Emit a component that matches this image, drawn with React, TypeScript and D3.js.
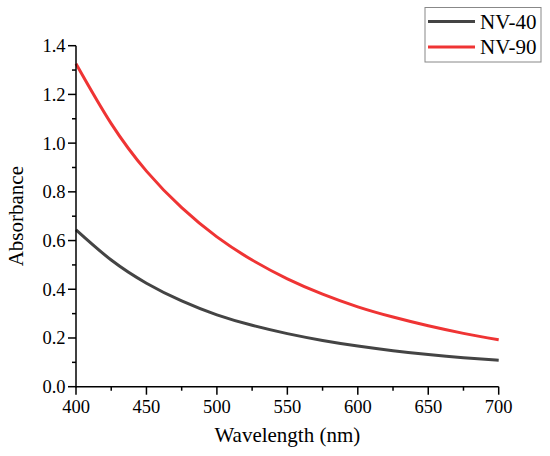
import React from "react";
import * as d3 from "d3";

const wavelengths = [400, 425, 450, 475, 500, 525, 550, 575, 600, 625, 650, 675, 700];
const nv40 = [0.644, 0.52, 0.425, 0.352, 0.295, 0.252, 0.218, 0.19, 0.167, 0.148, 0.132, 0.119, 0.109];
const nv90 = [1.326, 1.08, 0.885, 0.735, 0.615, 0.52, 0.443, 0.38, 0.328, 0.286, 0.25, 0.219, 0.193];
const seriesNames = ["NV-40", "NV-90"];
const seriesColors = ["#444444", "#ef3434"];
const xTicks = [400, 450, 500, 550, 600, 650, 700];
const xMinor = [425, 475, 525, 575, 625, 675];
const yTicks = [0, 0.2, 0.4, 0.6, 0.8, 1.0, 1.2, 1.4];
const yMinor = [0.1, 0.3, 0.5, 0.7, 0.9, 1.1, 1.3];

const W = 550, H = 456;
const FONT = "'Liberation Serif', 'Times New Roman', serif";

export default function App() {
  const x = d3.scaleLinear().domain([400, 700]).range([76, 498.7]);
  const y = d3.scaleLinear().domain([0, 1.4]).range([386.7, 45.7]);
  const line = d3
    .line<number>()
    .x((_, i) => x(wavelengths[i]))
    .y((d) => y(d))
    .curve(d3.curveNatural);
  const series = [nv40, nv90];
  const x0 = x.range()[0], y0 = y.range()[0];
  return (
    <svg width={W} height={H} style={{ position: "absolute", left: 0, top: 0, background: "#fff" }}>
      {series.map((s, i) => (
        <path key={i} d={line(s) || ""} fill="none" stroke={seriesColors[i]} strokeWidth={3} />
      ))}
      <line x1={x0} x2={x.range()[1]} y1={y0} y2={y0} stroke="#000" strokeWidth={1.5} />
      <line x1={x0} x2={x0} y1={y0 + 0.75} y2={y.range()[1]} stroke="#000" strokeWidth={1.5} />
      {xTicks.map((t) => (
        <g key={"xt" + t}>
          <line x1={x(t)} x2={x(t)} y1={y0} y2={y0 + 8} stroke="#000" strokeWidth={1.5} />
          <text x={x(t)} y={413} textAnchor="middle" fontFamily={FONT} fontSize={18.5}>{t}</text>
        </g>
      ))}
      {xMinor.map((t) => (
        <line key={"xm" + t} x1={x(t)} x2={x(t)} y1={y0} y2={y0 + 4} stroke="#000" strokeWidth={1.5} />
      ))}
      {yTicks.map((t) => (
        <g key={"yt" + t}>
          <line x1={x0 - 8} x2={x0} y1={y(t)} y2={y(t)} stroke="#000" strokeWidth={1.5} />
          <text x={65.5} y={y(t)} dy="0.35em" textAnchor="end" fontFamily={FONT} fontSize={18.5}>{t.toFixed(1)}</text>
        </g>
      ))}
      {yMinor.map((t) => (
        <line key={"ym" + t} x1={x0 - 4} x2={x0} y1={y(t)} y2={y(t)} stroke="#000" strokeWidth={1.5} />
      ))}
      <text x={(x.range()[0] + x.range()[1]) / 2} y={442} textAnchor="middle" fontFamily={FONT} fontSize={21}>Wavelength (nm)</text>
      <text transform={`translate(23,${(y.range()[0] + y.range()[1]) / 2}) rotate(-90)`} textAnchor="middle" fontFamily={FONT} fontSize={21}>Absorbance</text>
      <rect x={425} y={7.5} width={116} height={54.5} fill="#fff" stroke="#888" strokeWidth={1} />
      {seriesNames.map((n, i) => (
        <g key={n}>
          <line x1={428} x2={475} y1={21.5 + i * 25.5} y2={21.5 + i * 25.5} stroke={seriesColors[i]} strokeWidth={3} />
          <text x={480} y={21.5 + i * 25.5} dy="0.35em" fontFamily={FONT} fontSize={21}>{n}</text>
        </g>
      ))}
    </svg>
  );
}
